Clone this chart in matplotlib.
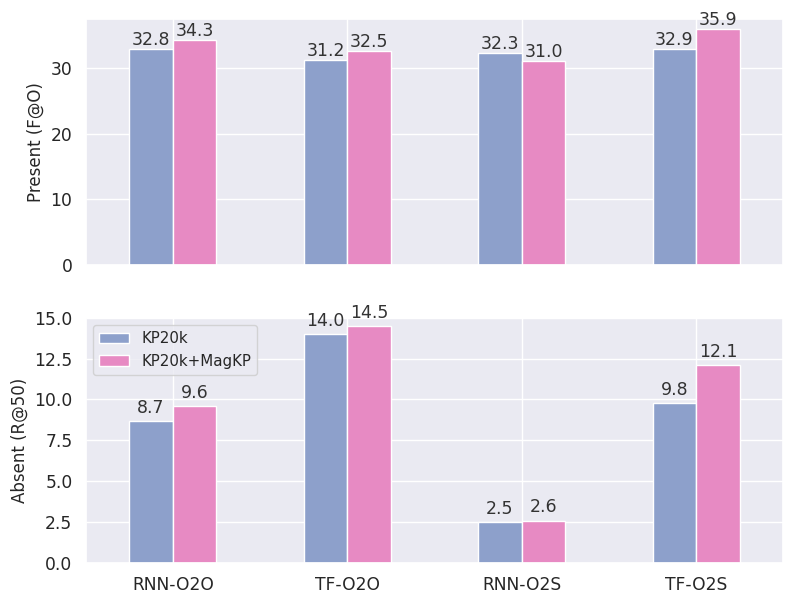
import matplotlib
matplotlib.use("Agg")
import matplotlib.pyplot as plt
import seaborn as sns
import numpy as np

sns.set_theme(style="darkgrid")
plt.rcParams['font.family'] = ['DejaVu Sans']
plt.rcParams['font.size'] = 12

models = ["RNN-O2O", "TF-O2O", "RNN-O2S", "TF-O2S"]
present_kp20k = [32.8, 31.2, 32.3, 32.9]
present_mag = [34.3, 32.5, 31.0, 35.9]
absent_kp20k = [8.7, 14.0, 2.5, 9.8]
absent_mag = [9.6, 14.5, 2.6, 12.1]
series_names = ["KP20k", "KP20k+MagKP"]
colors = ["#8DA0CB", "#E78AC3"]

x = np.arange(len(models))
w = 0.25

fig, (ax_p, ax_a) = plt.subplots(2, 1, figsize=(7.93, 6.03), dpi=100, sharex=True)

# present
b1 = ax_p.bar(x - w / 2, present_kp20k, w, color=colors[0], label=series_names[0])
b2 = ax_p.bar(x + w / 2, present_mag, w, color=colors[1], label=series_names[1])
for bars in (b1, b2):
    ax_p.bar_label(bars, fmt="%.1f", padding=0, fontsize=12.5, color="#333333")
ax_p.set_ylim(0, 37.4)
ax_p.set_ylabel("Present (F@O)", fontsize=12)

# absent
b3 = ax_a.bar(x - w / 2, absent_kp20k, w, color=colors[0], label=series_names[0])
b4 = ax_a.bar(x + w / 2, absent_mag, w, color=colors[1], label=series_names[1])
for bars in (b3, b4):
    ax_a.bar_label(bars, fmt="%.1f", padding=3, fontsize=12.5, color="#333333")
ax_a.set_ylim(0, 15.0)
ax_a.set_yticks([0, 2.5, 5.0, 7.5, 10.0, 12.5, 15.0])
ax_a.set_ylabel("Absent (R@50)", fontsize=12)
ax_a.legend(loc="upper left", fontsize=10.8)

ax_a.set_xlim(-0.5, 3.5)
ax_a.set_xticks(x)
ax_a.set_xticklabels(models)
for ax in (ax_p, ax_a):
    ax.tick_params(labelsize=12.3)

fig.subplots_adjust(left=0.108, right=0.988, top=0.968, bottom=0.066, hspace=0.215)
plt.savefig("out.png")
